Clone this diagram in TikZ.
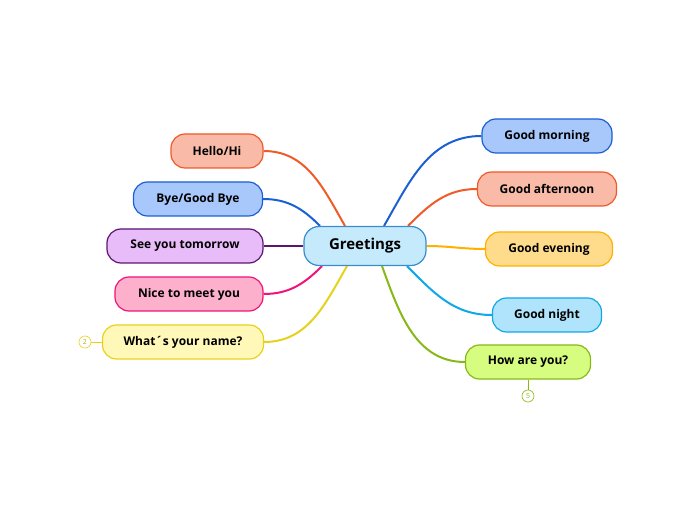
\documentclass[tikz,border=0pt]{standalone}
\usepackage{fontspec}
\setmainfont{Open Sans}
\usepackage{tikz}
\usetikzlibrary{positioning,shapes,arrows.meta,backgrounds}
\definecolor{cgreet}{HTML}{3A8CCC}
\definecolor{cgreetf}{HTML}{C5EAFC}
\definecolor{cred}{HTML}{F05A28}
\definecolor{credf}{HTML}{F9BBA8}
\definecolor{cblue}{HTML}{1A5FD4}
\definecolor{cbluef}{HTML}{A8C8FC}
\definecolor{cpurple}{HTML}{5C1470}
\definecolor{cpurplef}{HTML}{E8BCF8}
\definecolor{cpink}{HTML}{F0147A}
\definecolor{cpinkf}{HTML}{FCB0CC}
\definecolor{cyellow}{HTML}{E6D21E}
\definecolor{cyellowf}{HTML}{FFF8B8}
\definecolor{corange}{HTML}{FFB000}
\definecolor{corangef}{HTML}{FFDC8C}
\definecolor{csky}{HTML}{10A8E8}
\definecolor{cskyf}{HTML}{B0E4FC}
\definecolor{cgreen}{HTML}{88B818}
\definecolor{cgreenf}{HTML}{D6FC80}

\begin{document}
\begin{tikzpicture}[x=1pt,y=1pt]
\tikzstyle{every node}=[draw,rounded corners=14pt,line width=1.2pt,minimum height=34pt,inner sep=0pt,font=\fontsize{12}{14}\selectfont\bfseries];
\tikzstyle{link}=[line width=2pt];
\tikzstyle{count}=[circle,line width=0.6pt,minimum size=12pt,font=\fontsize{7}{8}\selectfont\mdseries];
\useasboundingbox (0,0) rectangle (697,520);

\node[fill=cgreetf,draw=cgreet,minimum width=122pt,minimum height=39pt,rounded corners=15pt,font=\fontsize{15}{18}\selectfont\bfseries] (greet) at (365,274) {Greetings};

\node[fill=credf,draw=cred,minimum width=92pt] (hello) at (217,369) {Hello/Hi};
\node[fill=cbluef,draw=cblue,minimum width=129pt] (bye) at (198,321) {Bye/Good Bye};
\node[fill=cpurplef,draw=cpurple,minimum width=156pt] (seeyou) at (185,274) {See you tomorrow};
\node[fill=cpinkf,draw=cpink,minimum width=148pt] (nice) at (189,226) {Nice to meet you};
\node[fill=cyellowf,draw=cyellow,minimum width=161pt] (name) at (183,178) {What\textasciiacute s your name?};

\node[fill=cbluef,draw=cblue,minimum width=130pt] (morning) at (547,384) {Good morning};
\node[fill=credf,draw=cred,minimum width=139pt] (afternoon) at (547,331) {Good afternoon};
\node[fill=corangef,draw=corange,minimum width=127pt] (evening) at (549,271) {Good evening};
\node[fill=cskyf,draw=csky,minimum width=109pt] (night) at (547,205) {Good night};
\node[fill=cgreenf,draw=cgreen,minimum width=125pt] (howare) at (528,158) {How are you?};

\node[count,draw=cyellow,text=cyellow!80!black] (cnt2) at (85,178) {2};
\node[count,draw=cgreen,text=cgreen] (cnt5) at (528,124) {5};

\begin{scope}[on background layer]
\draw[link,cred] (hello.east) to[out=0,in=120] ([xshift=-20pt]greet.north);
\draw[link,cblue] (bye.east) to[out=0,in=135] ([xshift=-45pt]greet.north);
\draw[link,cpurple] (seeyou.east) -- (greet.west);
\draw[link,cpink] (nice.east) to[out=0,in=-135] ([xshift=-43pt]greet.south);
\draw[link,cyellow] (name.east) to[out=0,in=-120] ([xshift=-18pt]greet.south);
\draw[link,cblue] ([xshift=19pt]greet.north) to[out=60,in=180] (morning.west);
\draw[link,cred] ([xshift=43pt]greet.north) to[out=45,in=180] (afternoon.west);
\draw[link,corange] (greet.east) to[out=0,in=180] (evening.west);
\draw[link,csky] ([xshift=42pt]greet.south) to[out=-45,in=180] (night.west);
\draw[link,cgreen] ([xshift=17pt]greet.south) to[out=-70,in=180] (howare.west);
\draw[cyellow,line width=0.8pt] (cnt2) -- (name.west);
\draw[cgreen,line width=0.8pt] (howare.south) -- (cnt5);
\end{scope}
\end{tikzpicture}
\end{document}
